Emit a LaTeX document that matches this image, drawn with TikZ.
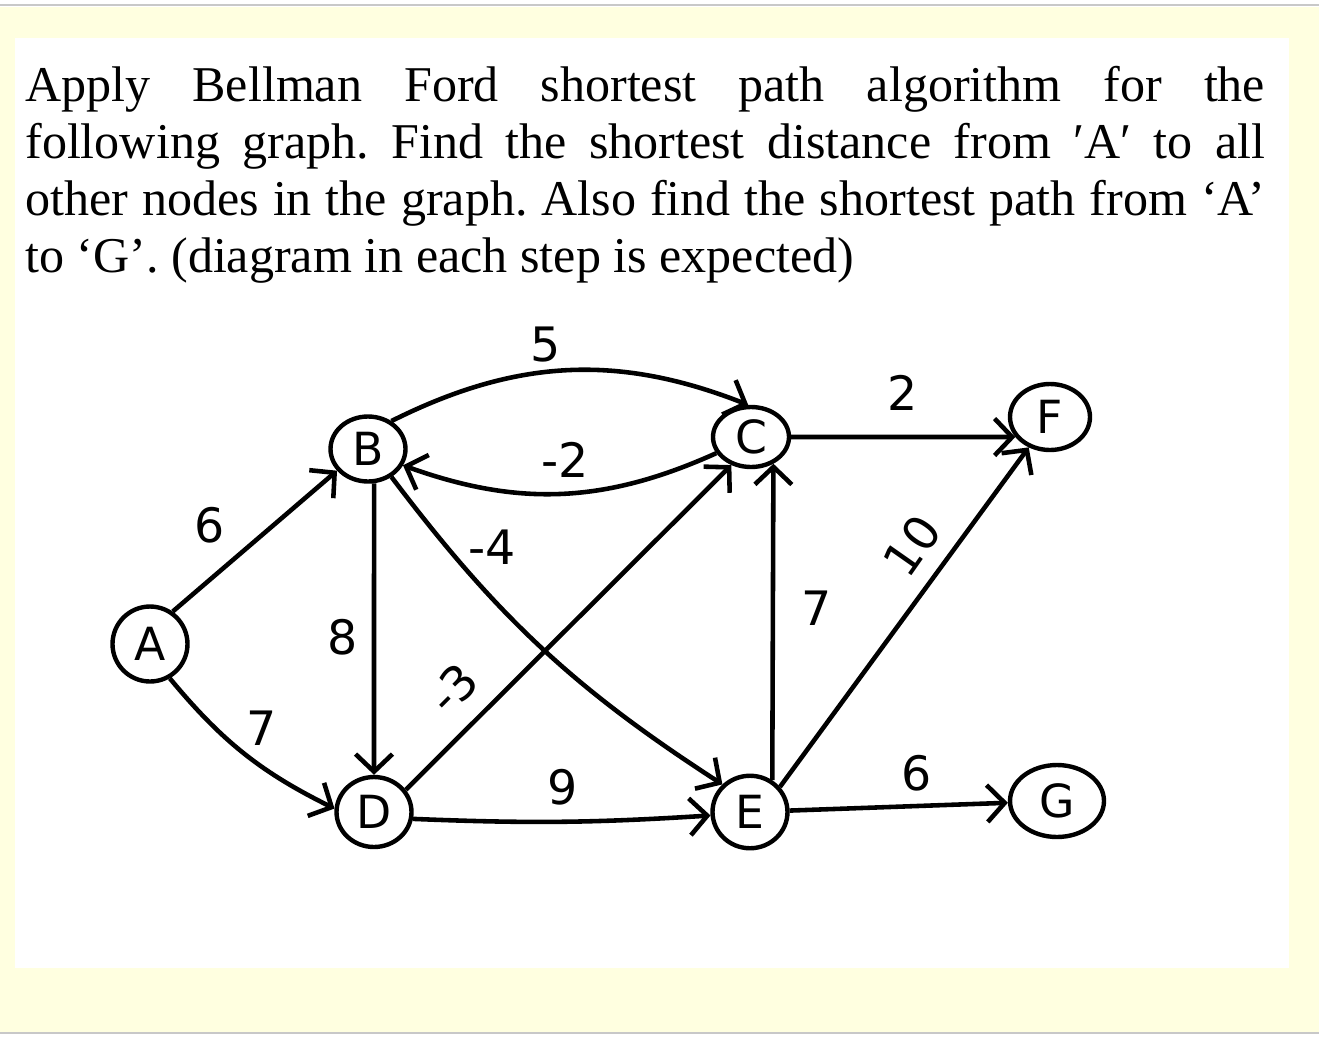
\documentclass[tikz,border=0pt]{standalone}
\usepackage{fontspec}
\setmainfont{Liberation Serif}
\newfontfamily\handfont{DejaVu Sans}
\usetikzlibrary{arrows.meta,shapes.geometric}
\definecolor{cream}{RGB}{255,255,224}
\definecolor{rulegray}{RGB}{200,200,200}
\setlength{\parindent}{0pt}
\frenchspacing

\begin{document}
\begin{tikzpicture}[x=0.02cm,y=-0.02cm,
  vertex/.style={ellipse,draw,line width=2.5pt,minimum width=1.5cm,minimum height=1.5cm,inner sep=0pt,font=\handfont\fontsize{26}{26}\selectfont},
  weight/.style={font=\handfont\fontsize{27}{27}\selectfont,inner sep=1pt},
  link/.style={->,line width=2.6pt},
  >={Straight Barb[length=10pt,width=21pt]}]
\useasboundingbox (0,0) rectangle (1319,1062);
% page background
\fill[white] (0,0) rectangle (1319,1062);
\fill[cream] (0,7) rectangle (1319,1032);
\fill[white] (15,38) rectangle (1289,968);
\draw[rulegray,line width=1.5pt] (0,5) -- (1319,5);
\draw[rulegray,line width=1.5pt] (0,1033) -- (1319,1033);
% question
\node[anchor=north west,text width=24.8cm,align=justify,inner sep=0pt,font=\fontsize{28.5}{32.4}\selectfont] (question) at (25,66)
{\tolerance=9999 Apply Bellman Ford shortest path algorithm for the\linebreak following graph. Find the shortest distance from ′A′ to all\linebreak other nodes in the graph. Also find the shortest path from ‘A’\linebreak to ‘G’. (diagram in each step is expected)};
% vertices
\node[vertex] (A) at (150,644) {A};
\node[vertex,minimum height=1.3cm] (B) at (368,449) {B};
\node[vertex,minimum width=1.52cm,minimum height=1.2cm] (C) at (751,437) {C};
\node[vertex,minimum width=1.6cm,minimum height=1.32cm] (F) at (1050,417) {F};
\node[vertex,minimum height=1.4cm] (D) at (374,812) {D};
\node[vertex,minimum height=1.45cm] (E) at (750,812) {E};
\node[vertex,minimum width=1.88cm,minimum height=1.44cm] (G) at (1057,801) {G};
% edges
\draw[link] (A.55) -- (B.215);
\draw[link] (A.-60) to[bend right=12] (D.175);
\draw[link] (B.50) to[bend left=24] (C.95);
\draw[link] (C.205) to[bend left=22] (B.-25);
\draw[link] (B.-80) -- (D.90);
\draw[link] (B.-50) to[bend right=10] (E.135);
\draw[link] (D.35) -- (C.235);
\draw[link] (D.-10) to[bend right=3] (E.185);
\draw[link] (E.55) -- (C.-50);
\draw[link] (C.east) -- (F.210);
\draw[link] (E.40) -- (F.235);
\draw[link] (E) -- (G);
% weights
\node[weight] (w5) at (546,345) {5};
\node[weight] (w2) at (903,393) {2};
\node[weight] (wm2) at (565,460) {-2};
\node[weight] (w6) at (210,525) {6};
\node[weight] (wm4) at (492,547) {-4};
\node[weight] (w8) at (343,637) {8};
\node[weight] (w7c) at (817,608) {7};
\node[weight,rotate=55] (w10) at (912,546) {10};
\node[weight,rotate=45] (wm3) at (453,689) {-3};
\node[weight] (w7d) at (262,728) {7};
\node[weight] (w9) at (563,787) {9};
\node[weight] (w6g) at (917,773) {6};
\end{tikzpicture}
\end{document}
